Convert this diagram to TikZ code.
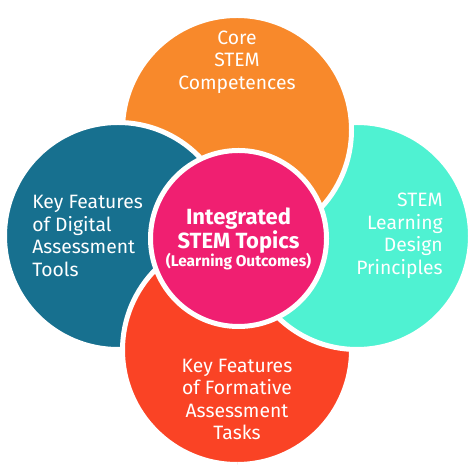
\documentclass[tikz,border=0pt]{standalone}
\usepackage{fontspec}
\setmainfont{Fira Sans}

\definecolor{coreorange}{HTML}{F8892B}
\definecolor{toolsblue}{HTML}{17708F}
\definecolor{designaqua}{HTML}{4FF2D2}
\definecolor{tasksred}{HTML}{FA4325}
\definecolor{topicspink}{HTML}{F01F71}

\tikzset{
    petal/.style={
        draw=white,
        circle,
        line width=0.1cm,
        minimum size=4.58cm
    },
    petaltext/.style={
        text=white,
        inner sep=0pt,
        font=\fontsize{11}{12.8}\selectfont
    }
}

\begin{document}
\begin{tikzpicture}
        \useasboundingbox (0,0) rectangle (9.48,9.48);

        \node[petal,
        fill=tasksred
        ](tasks) at (4.74,2.48) {};

        \node[petal,
        fill=designaqua,
        minimum size=4.54cm
        ](design) at (7.14,4.76) {};

        \node[petal,
        fill=coreorange
        ](core) at (4.74,6.88) {};

        \node[petal,
        fill=toolsblue,
        minimum size=4.54cm
        ](tools) at (2.36,4.76) {};

        % red circle lies over the blue one
        \begin{scope}
        \clip (0,0) rectangle (4.74,4.76);
        \node[petal,
        fill=tasksred
        ](taskslow) at (4.74,2.48) {};
        \end{scope}

        \node[draw=white,
        circle,
        line width=0.1cm,
        fill=topicspink,
        text=white,
        align=center,
        minimum size=3.52cm
        ](topics) at (4.77,4.71) {\fontsize{12.5}{14.8}\selectfont\bfseries Integrated\\
        \fontsize{12.5}{14.8}\selectfont\bfseries STEM Topics\\[-2pt]
        \fontsize{8.8}{10}\selectfont\bfseries (Learning Outcomes)};

        \node[petaltext,
        align=center
        ](coretext) at (4.74,8.24) {Core\\STEM\\Competences};

        \node[petaltext,
        align=left,
        anchor=west
        ](toolstext) at (0.64,4.76) {Key Features\\of Digital\\Assessment\\Tools};

        \node[petaltext,
        align=right,
        anchor=east
        ](designtext) at (8.86,4.76) {STEM\\Learning\\Design\\Principles};

        \node[petaltext,
        align=center
        ](taskstext) at (4.74,1.49) {Key Features\\of Formative\\Assessment\\Tasks};

    \end{tikzpicture}
\end{document}
